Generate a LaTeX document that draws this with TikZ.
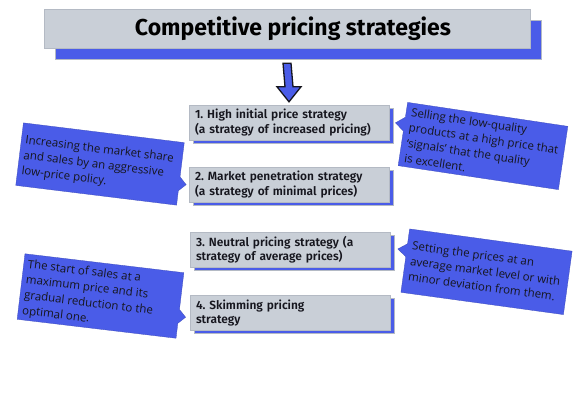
\documentclass[tikz,border=0pt]{standalone}
\usepackage{fontspec}
\setmainfont{Open Sans}
\newfontfamily\headfont{Fira Sans}
\newfontfamily\semifont{Fira Sans SemiBold}
\usetikzlibrary{shadows,calc}
\definecolor{boxgray}{RGB}{201,207,215}
\definecolor{edgegray}{RGB}{180,186,196}
\definecolor{noteblue}{RGB}{74,92,232}
\definecolor{inkdark}{RGB}{22,22,30}
\frenchspacing
\tikzset{
  titlebox/.style={draw=edgegray, fill=boxgray, minimum width=486, minimum height=39, inner sep=0,
    font=\headfont\bfseries\fontsize{23}{26}\selectfont, text=black,
    general shadow={fill=noteblue, draw=edgegray, shadow xshift=11pt, shadow yshift=-11pt}},
  stratbox/.style={draw=edgegray, fill=boxgray, minimum width=200, minimum height=35, text width=188,
    inner xsep=6, inner ysep=2, align=left, text=inkdark, font=\semifont\fontsize{11.9}{14.5}\selectfont,
    general shadow={fill=noteblue, draw=edgegray, shadow xshift=4pt, shadow yshift=-3pt}},
  notebox/.style={fill=noteblue, draw=noteblue!80!black, line width=0.3pt},
  notetext/.style={anchor=north west, inner sep=0, align=left, text=inkdark, transform shape,
    font=\fontsize{11.5}{15.5}\selectfont},
  blockarrow/.style={fill=noteblue, draw=inkdark, line width=1.3pt, line join=miter}
}
\begin{document}
\begin{tikzpicture}[x=1pt,y=-1pt]
\useasboundingbox (0,0) rectangle (585,416);
\node[titlebox] (title) at (287,28.5) {\hspace{12pt}Competitive pricing strategies};
\node[stratbox] (strat1) at (289,122.5) {1. High initial price strategy\\(a strategy of increased pricing)};
\node[stratbox] (strat2) at (289,184.5) {2. Market penetration strategy\\(a strategy of minimal prices)};
\node[stratbox] (strat3) at (290,249.5) {3. Neutral pricing strategy (a\\strategy of average prices)};
\node[stratbox] (strat4) at (290,313) {4. Skimming pricing\\strategy};
\coordinate (arrtop) at ([yshift=-15pt]title.south);
\coordinate (arrtip) at ([yshift=3pt]strat1.north);
\filldraw[blockarrow] ($(arrtop)+(-4,0)$) -- ($(arrtop)+(4,0)$) -- ($(arrtip)+(4,-15)$) -- ($(arrtip)+(12,-15)$)
  -- (arrtip) -- ($(arrtip)+(-12,-15)$) -- ($(arrtip)+(-4,-15)$) -- cycle;
\begin{scope}[shift={(100,164)}, rotate=-7]
\fill[notebox] (-81,-31.5) -- (81,-31.5) -- (81,3) -- (88,10) -- (81,17) -- (81,31.5) -- (-81,31.5) -- cycle;
\node[notetext] (note1) at (-77,-20) {Increasing the market share\\and sales by an aggressive\\low-price policy.};
\end{scope}
\begin{scope}[shift={(483,146)}, rotate=-8.5]
\fill[notebox] (-81,-32) -- (81,-32) -- (81,32) -- (-81,32) -- (-81,-3) -- (-90,-10) -- (-81,-17) -- cycle;
\node[notetext] (note2) at (-76,-27.5) {Selling the low-quality\\products at a high price that\\`signals' that the quality\\is excellent.};
\end{scope}
\begin{scope}[shift={(100.5,296)}, rotate=-6.8]
\fill[notebox] (-80,-33) -- (80,-33) -- (80,4) -- (87,11) -- (80,18) -- (80,33) -- (-80,33) -- cycle;
\node[notetext] (note3) at (-76,-28) {The start of sales at a\\maximum price and its\\gradual reduction to the\\optimal one.};
\end{scope}
\begin{scope}[shift={(486.5,271.75)}, rotate=-7.8]
\fill[notebox] (-82,-32) -- (82,-32) -- (82,32) -- (-82,32) -- (-82,-4) -- (-91,-10.5) -- (-82,-17) -- cycle;
\node[notetext] (note4) at (-77,-20.5) {Setting the prices at an\\average market level or with\\minor deviation from them.};
\end{scope}
\end{tikzpicture}
\end{document}
